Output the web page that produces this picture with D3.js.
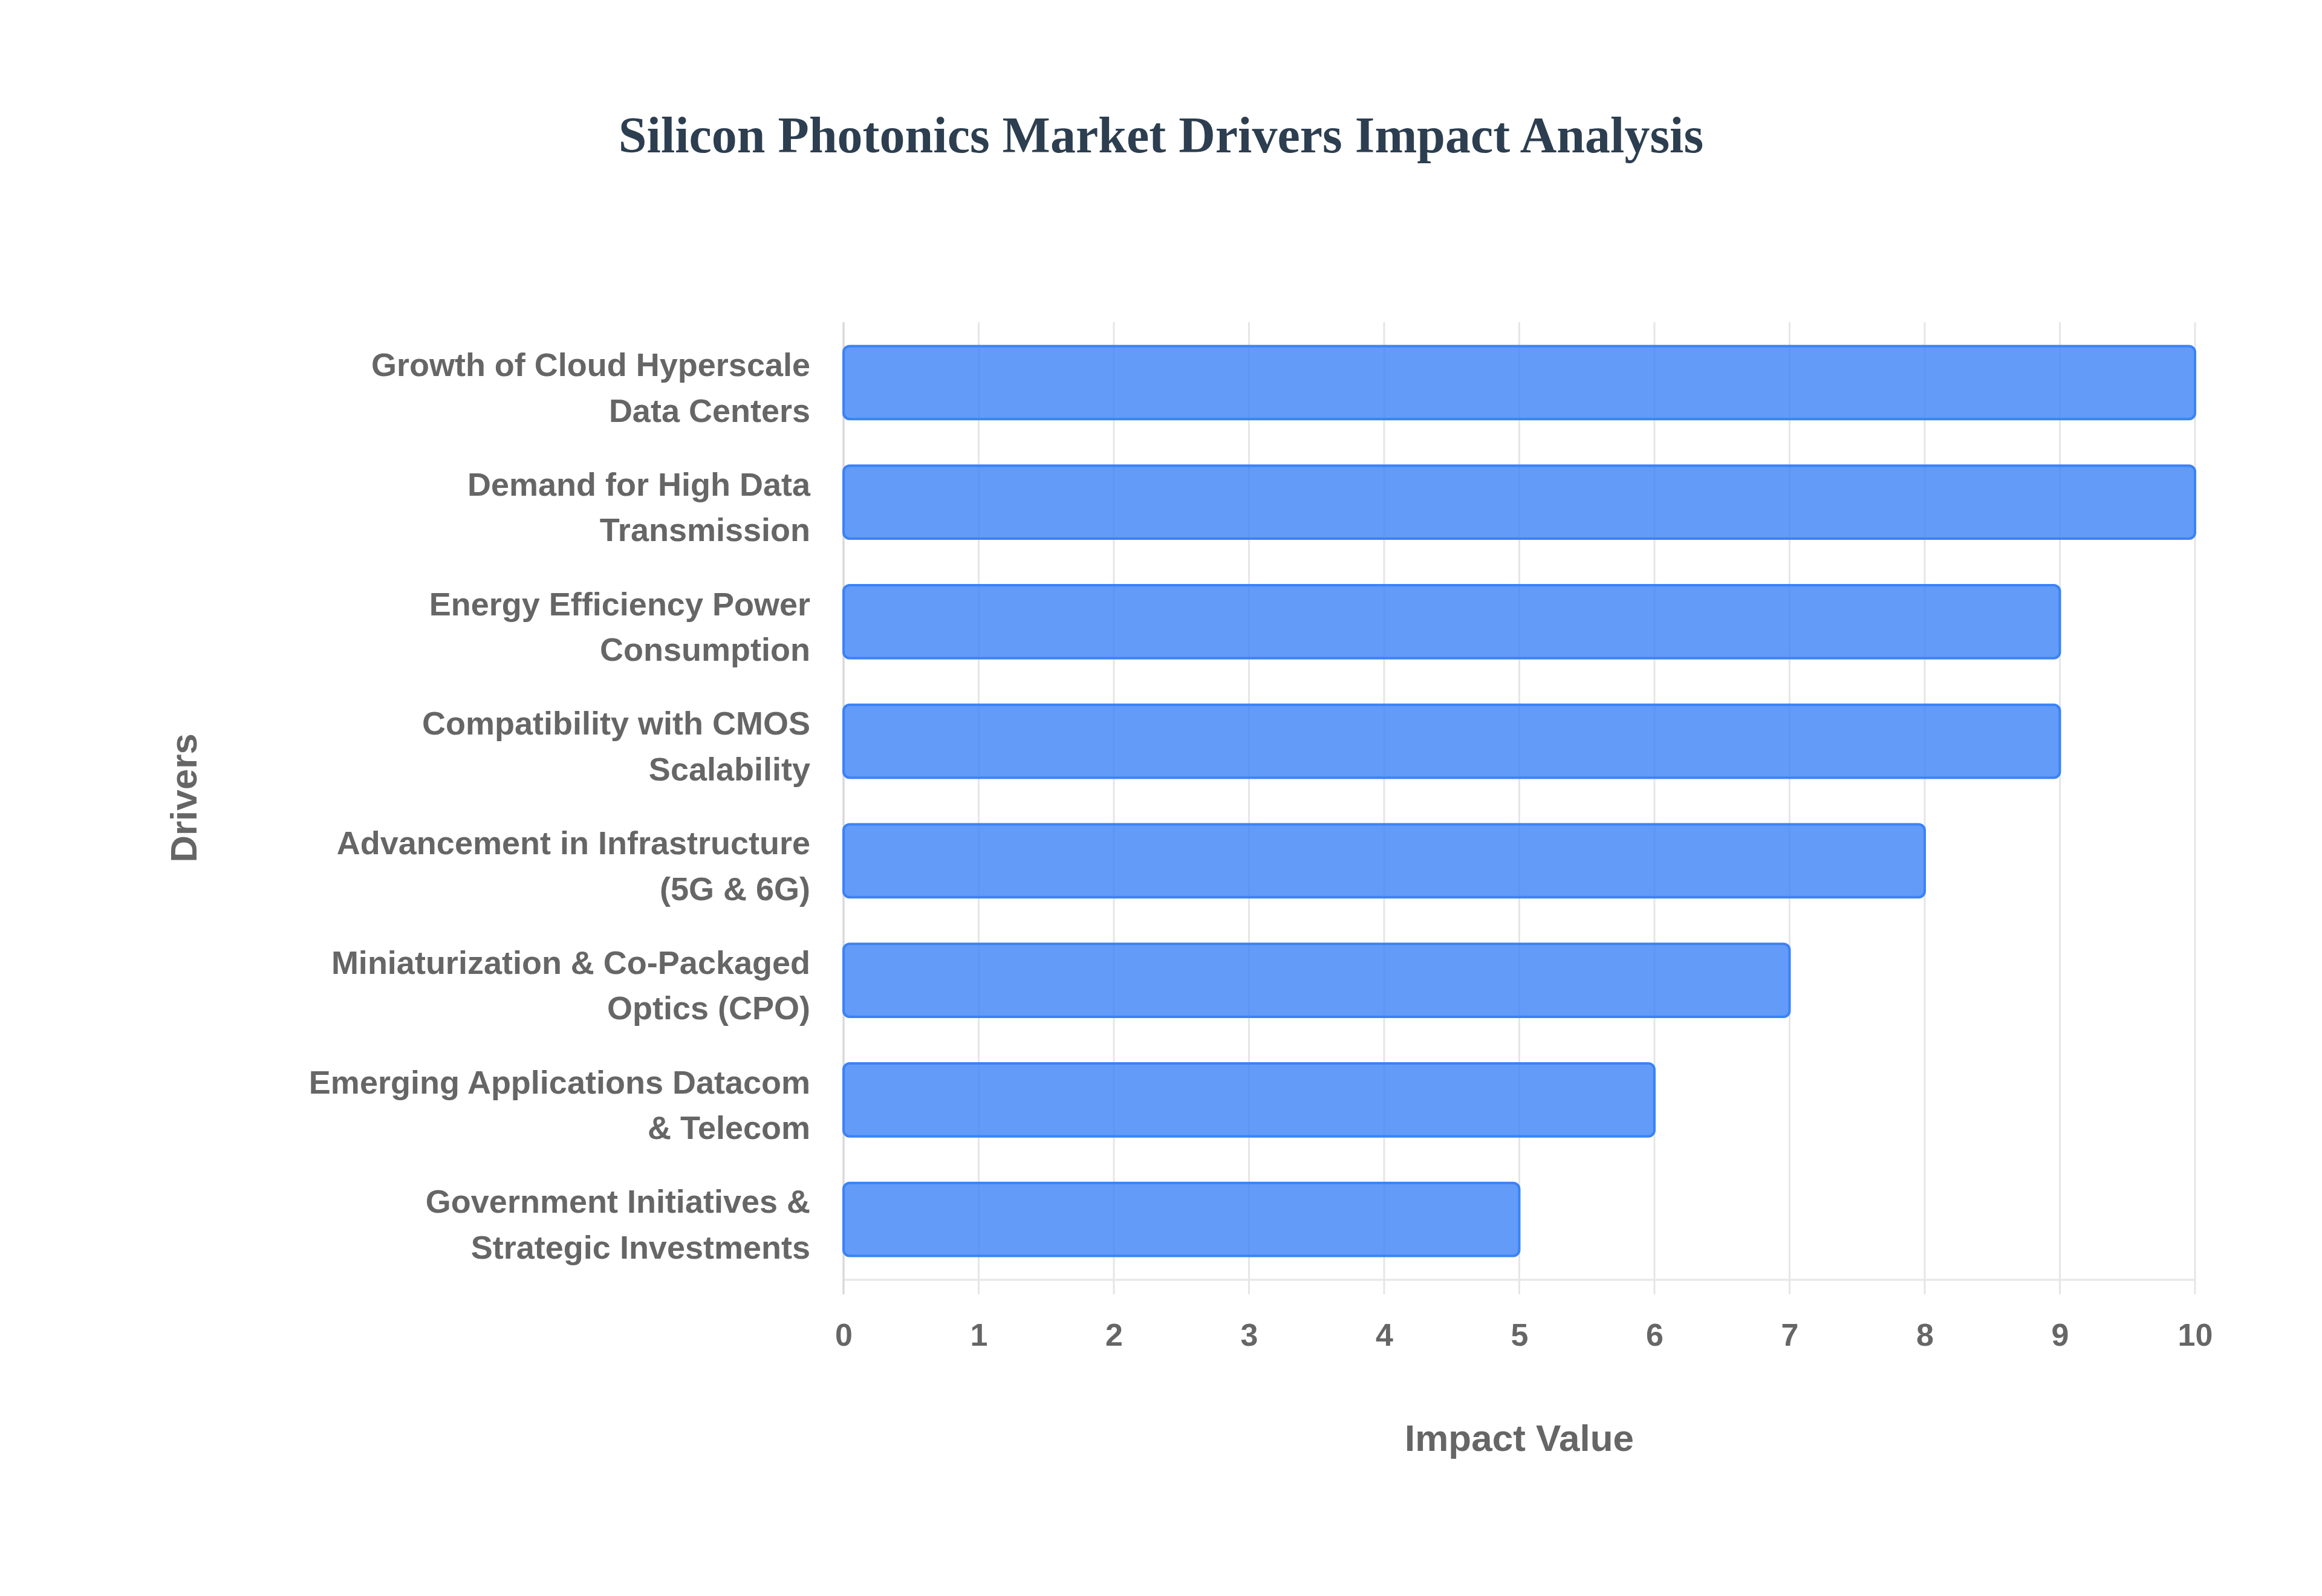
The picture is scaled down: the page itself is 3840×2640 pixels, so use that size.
<!DOCTYPE html>
<html>
<head>
<meta charset="utf-8">
<script src="https://cdn.jsdelivr.net/npm/d3@7"></script>
<style>
  body { margin: 0; background: #fff; }
</style>
</head>
<body>
<svg id="chart" width="3840" height="2640"></svg>
<script>
var drivers = [
  ["Growth of Cloud Hyperscale", "Data Centers"],
  ["Demand for High Data", "Transmission"],
  ["Energy Efficiency Power", "Consumption"],
  ["Compatibility with CMOS", "Scalability"],
  ["Advancement in Infrastructure", "(5G & 6G)"],
  ["Miniaturization & Co-Packaged", "Optics (CPO)"],
  ["Emerging Applications Datacom", "& Telecom"],
  ["Government Initiatives &", "Strategic Investments"]
];
var impact = [10, 10, 9, 9, 8, 7, 6, 5];
var xTicks = [0, 1, 2, 3, 4, 5, 6, 7, 8, 9, 10];

var svg = d3.select("#chart");
var plotLeft = 1395, plotRight = 3630, plotTop = 533, plotBottom = 2117;
var font = "'Liberation Sans', Arial, sans-serif";
var grey = "#666666";

var x = d3.scaleLinear().domain([0, 10]).range([plotLeft, plotRight]);
var y = d3.scaleBand().domain(d3.range(drivers.length)).range([plotTop, plotBottom]).paddingInner(0.39).paddingOuter(0.2);

// title
svg.append("text")
  .attr("x", 1920).attr("y", 252)
  .attr("text-anchor", "middle")
  .style("font-family", "'Liberation Serif', 'Times New Roman', serif")
  .style("font-weight", "bold").style("font-size", "84px")
  .style("fill", "#2c3e50")
  .text("Silicon Photonics Market Drivers Impact Analysis");

// grid
svg.append("g").selectAll("line").data(xTicks).enter().append("line")
  .attr("x1", function(d) { return x(d); }).attr("x2", function(d) { return x(d); })
  .attr("y1", plotTop).attr("y2", plotBottom + 24)
  .attr("stroke", "#e6e6e6").attr("stroke-width", 3);
svg.append("line")
  .attr("x1", plotLeft).attr("x2", plotRight).attr("y1", plotBottom).attr("y2", plotBottom)
  .attr("stroke", "#e6e6e6").attr("stroke-width", 3);
svg.append("line")
  .attr("x1", plotLeft).attr("x2", plotLeft).attr("y1", plotTop).attr("y2", plotBottom + 24)
  .attr("stroke", "#d8d8d8").attr("stroke-width", 3);

// x tick labels
var xAxis = d3.axisBottom(x).tickValues(xTicks).tickSize(0).tickPadding(0).tickFormat(d3.format("d"));
var xg = svg.append("g").attr("transform", "translate(0," + (plotBottom + 72) + ")").call(xAxis);
xg.select(".domain").remove();
xg.selectAll("text")
  .style("font-family", font).style("font-weight", "bold")
  .style("font-size", "52px").style("fill", grey);

// bars
svg.append("g").selectAll("rect").data(impact).enter().append("rect")
  .attr("x", x(0))
  .attr("y", function(d, i) { return y(i); })
  .attr("width", function(d) { return x(d) - x(0); })
  .attr("height", y.bandwidth())
  .attr("rx", 10).attr("ry", 10)
  .attr("fill", "rgba(59,130,246,0.8)")
  .attr("stroke", "#3b82f6").attr("stroke-width", 4);

// y labels
var yl = svg.append("g").selectAll("text").data(drivers).enter().append("text")
  .attr("text-anchor", "end")
  .attr("x", 1340)
  .attr("y", function(d, i) { return y(i) + y.bandwidth() / 2; })
  .style("font-family", font).style("font-weight", "bold")
  .style("font-size", "54px").style("fill", grey);
yl.selectAll("tspan").data(function(d) { return d; }).enter().append("tspan")
  .attr("x", 1340)
  .attr("dy", function(d, i) { return i === 0 ? "-0.2em" : "1.4em"; })
  .text(function(d) { return d; });

// axis titles
svg.append("text")
  .attr("x", (plotLeft + plotRight) / 2).attr("y", 2400)
  .attr("text-anchor", "middle")
  .style("font-family", font).style("font-weight", "bold")
  .style("font-size", "62px").style("fill", grey)
  .text("Impact Value");
svg.append("text")
  .attr("transform", "translate(325,1320) rotate(-90)")
  .attr("text-anchor", "middle")
  .style("font-family", font).style("font-weight", "bold")
  .style("font-size", "62px").style("fill", grey)
  .text("Drivers");
</script>
</body>
</html>
